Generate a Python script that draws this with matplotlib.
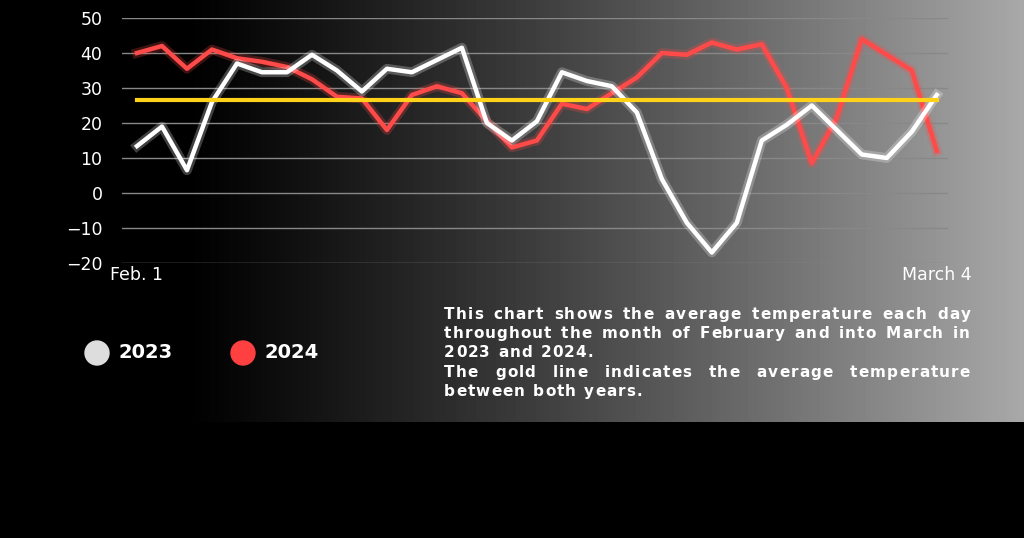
import numpy as np
import matplotlib.pyplot as plt
import matplotlib.patheffects as pe
from matplotlib.patches import Ellipse

days = np.arange(33)
temp_2023 = [13.4, 19, 6.5, 26, 37, 34.5, 34.5, 39.5, 35, 29, 35.5, 34.5, 38, 41.5, 20, 15, 20.5,
             34.5, 32, 30.5, 23, 4, -8.5, -17, -8.5, 15, 19.5, 25, 18, 11, 10, 17.5, 28]
temp_2024 = [40, 42, 35.5, 41, 38.5, 37.5, 36, 32.5, 27.5, 27, 18, 28, 30.5, 28.5, 20.5, 13, 15,
             25.5, 24, 28.5, 33, 40, 39.5, 43, 41, 42.5, 30, 8.5, 21.5, 44, 39.5, 35, 12]
avg_temp = 26.5
yticks = [-20, -10, 0, 10, 20, 30, 40, 50]

W, H = 1024, 538
fig = plt.figure(figsize=(W / 100, H / 100), dpi=100, facecolor='black')

# gradient background on the top band
bg = fig.add_axes([0, 1 - 422 / H, 1, 422 / H])
xs = np.linspace(0, 1, 512)
vals = np.clip((xs - 0.18) / 0.82, 0, 1) ** 1.15 * 0.66
bg.imshow(np.tile(vals, (2, 1)), cmap='gray', vmin=0, vmax=1, aspect='auto', extent=[0, 1, 0, 1])
bg.axis('off')

ax = fig.add_axes([122 / W, 1 - 263 / H, (948 - 122) / W, 245 / H])
ax.patch.set_alpha(0)
ax.set_ylim(-20, 50)
ax.set_xlim(-0.6, 32.45)
for y in yticks:
    ax.axhline(y, color='#888888', lw=1, zorder=1)

ax.plot(days, temp_2024, color='#ff4a4a', lw=3.2, zorder=3,
        path_effects=[pe.Stroke(linewidth=7, alpha=0.25, foreground='#ff4a4a'), pe.Normal()])
ax.plot(days, temp_2023, color='white', lw=3.2, zorder=4,
        path_effects=[pe.Stroke(linewidth=7, alpha=0.25, foreground='white'), pe.Normal()])
ax.plot([0, 32], [avg_temp, avg_temp], color='#ffd21a', lw=3, zorder=5)

ax.set_yticks(yticks)
ax.set_yticklabels([str(t).replace('-', '\u2212') for t in yticks], color='white', fontsize=12.5)
ax.tick_params(axis='y', length=0, pad=14)
ax.set_xticks([])
for s in ax.spines.values():
    s.set_visible(False)
ax.text(0, -23.5, 'Feb. 1', color='white', fontsize=12.5, ha='center', va='center')
ax.text(32, -23.5, 'March 4', color='white', fontsize=12.5, ha='center', va='center')

# legend
for x, col, lab in [(97, '#dddddd', '2023'), (243, '#ff4040', '2024')]:
    fig.add_artist(Ellipse((x / W, 1 - 353 / H), 24 / W, 24 / H, transform=fig.transFigure,
                           color=col))
    fig.text((x + 22) / W, 1 - 353 / H, lab, color='white', fontsize=14, fontweight='bold',
             va='center')

# justified, letter-spaced description text
desc_lines = ["This chart shows the average temperature each day",
              "throughout the month of February and into March in",
              "2023 and 2024.",
              "The gold line indicates the average temperature",
              "between both years."]
justify = [True, True, False, True, False]
left, right, base, step = 444, 970, 319, 19.2
track = 1.1
fs = 11
fig.canvas.draw()
r = fig.canvas.get_renderer()
probe = fig.text(0, 0, '', fontsize=fs, fontweight='bold')


def advance(s):
    # width of s measured between two marker bars, so bearings are kept
    probe.set_text('|' + s + '|')
    w = probe.get_window_extent(r).width
    probe.set_text('||')
    return w - probe.get_window_extent(r).width


for k, (line, jst) in enumerate(zip(desc_lines, justify)):
    y = 1 - (base + k * step) / H
    words = line.split()
    word_w = [advance(w) + track * (len(w) - 1) for w in words]
    gap = (right - left - sum(word_w)) / (len(words) - 1) if jst else 8
    x = left
    for w, ww in zip(words, word_w):
        for i, c in enumerate(w):
            cx = x + advance(w[:i]) + track * i
            fig.text(cx / W, y, c, color='white', fontsize=fs, fontweight='bold', va='baseline')
        x += ww + gap
probe.set_visible(False)

fig.savefig('out.png', dpi=100, facecolor='black')
